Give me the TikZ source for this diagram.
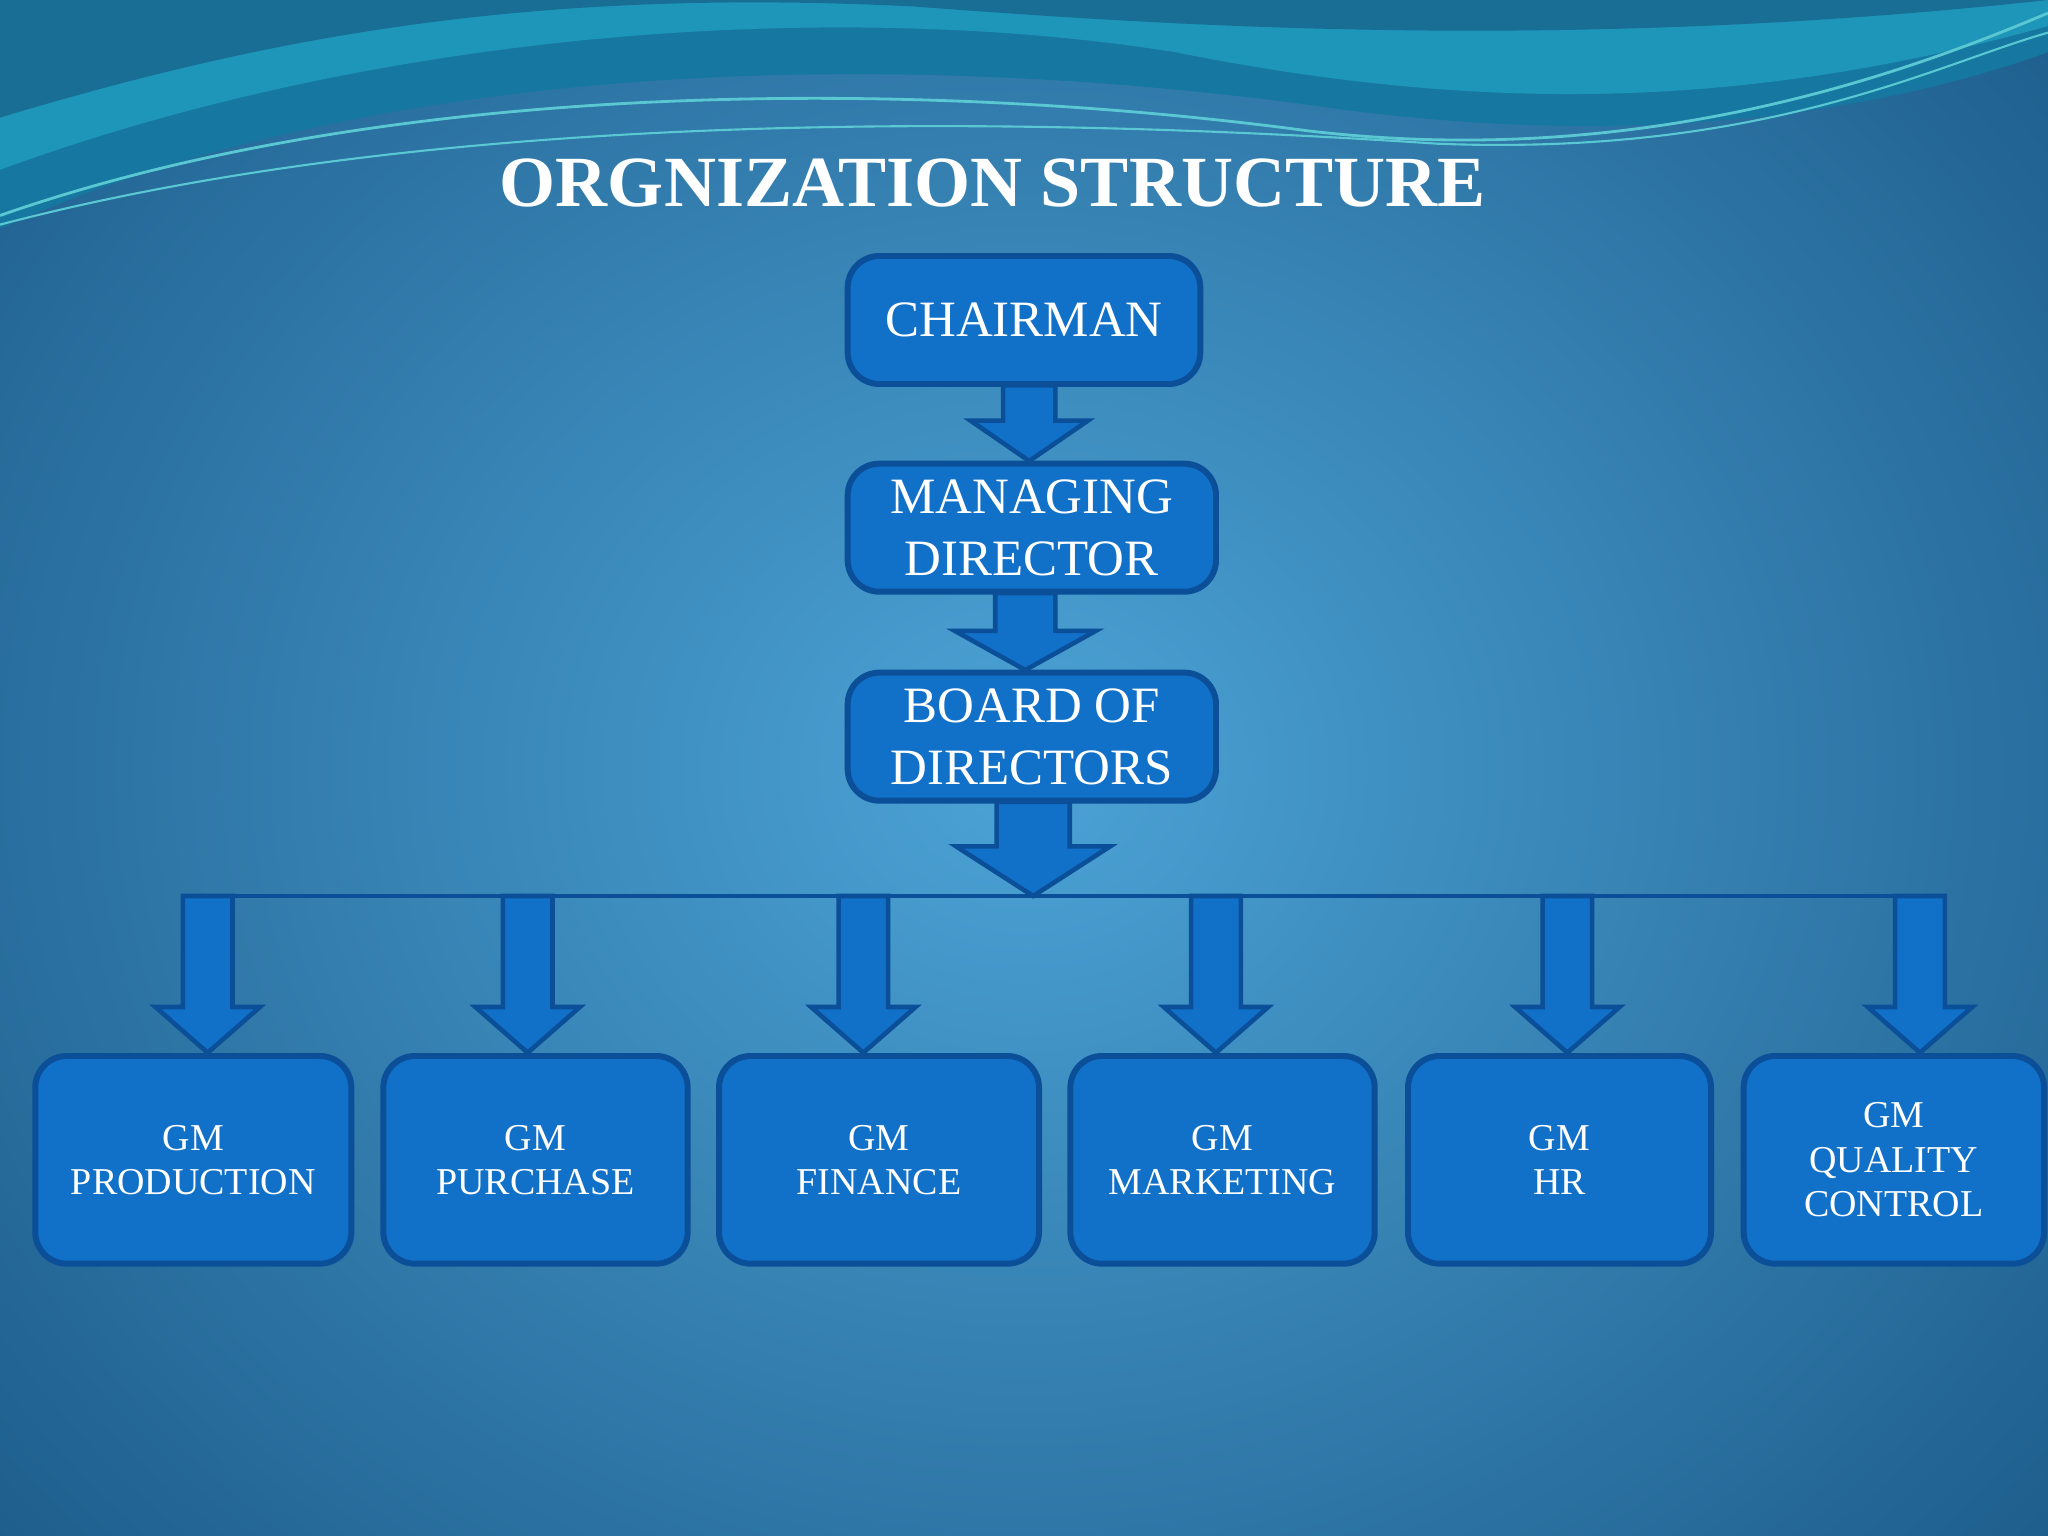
\documentclass[tikz,border=0pt]{standalone}
\usepackage{fontspec}
\setmainfont{Liberation Serif}
\usetikzlibrary{shadings}
\definecolor{boxfill}{HTML}{1170C8}
\definecolor{boxline}{HTML}{0B4F98}
\definecolor{bgin}{HTML}{4CA3D6}
\definecolor{bgout}{HTML}{175482}
\tikzset{
 orgbox/.style={draw=boxline,line width=1.7pt,fill=boxfill,rounded corners=9pt,text=white,align=center,inner sep=0pt},
 blk/.style={draw=boxline,line width=1.3pt,fill=boxfill,line join=miter}
}
\newcommand{\blkarrow}[6]{% x, ytop, yneck, ytip, shaft half, head half
 \draw[blk] (#1-#5,#2) -- (#1+#5,#2) -- (#1+#5,#3) -- (#1+#6,#3) -- (#1,#4) -- (#1-#6,#3) -- (#1-#5,#3) -- cycle;}
\begin{document}
\begin{tikzpicture}[x=0.01306cm,y=-0.01306cm]
\useasboundingbox (0,0) rectangle (1568,1176);
\shade[inner color=bgin,outer color=bgout] (-400,-450) rectangle (1968,1626);
% top wave
\fill[color={rgb,255:red,22;green,120;blue,160}] (0,0) -- (1568,0) -- (1568,40) .. controls (1400,100) and (1200,110) .. (1000,80) .. controls (700,40) and (300,40) .. (0,175) -- cycle;
\fill[color={rgb,255:red,30;green,150;blue,185}] (0,0) -- (1568,0) -- (1568,20) .. controls (1350,80) and (1150,90) .. (900,40) .. controls (650,0) and (300,20) .. (0,130) -- cycle;
\fill[color={rgb,255:red,25;green,110;blue,150}] (0,0) -- (1568,0) .. controls (1200,40) and (900,20) .. (700,5) .. controls (400,-10) and (200,30) .. (0,90) -- cycle;
\draw[color={rgb,255:red,90;green,200;blue,210},line width=0.8pt] (0,165) .. controls (300,60) and (700,60) .. (1000,100) .. controls (1250,130) and (1450,60) .. (1568,10);
\draw[color={rgb,255:red,90;green,200;blue,210},line width=0.6pt] (0,172) .. controls (350,80) and (800,90) .. (1100,110) .. controls (1350,120) and (1480,50) .. (1568,25);
\node[text=white,font=\bfseries\fontsize{20.5}{24}\selectfont] (title) at (760,140) {ORGNIZATION STRUCTURE};
\node[orgbox,minimum width=270*0.01306cm,minimum height=98*0.01306cm,font=\fontsize{14.5}{17.5}\selectfont] (ch) at (784,245) {CHAIRMAN};
\node[orgbox,minimum width=282*0.01306cm,minimum height=98*0.01306cm,font=\fontsize{14.5}{17.5}\selectfont] (md) at (790,404) {MANAGING\\DIRECTOR};
\node[orgbox,minimum width=282*0.01306cm,minimum height=98*0.01306cm,font=\fontsize{14.5}{17.5}\selectfont] (bd) at (790,564) {BOARD OF\\DIRECTORS};
\blkarrow{788}{295}{322}{353}{20}{45}
\blkarrow{785}{454}{483}{513}{23}{54}
\blkarrow{791}{614}{648}{686}{28}{59}
\draw[boxline,line width=1pt] (140,686) -- (1470,686);
\foreach \n/\cx/\w/\t/\ax in {a/148/242/GM\\PRODUCTION/159, b/410/233/GM\\PURCHASE/404, c/673/245/GM\\FINANCE/661, d/936/233/GM\\MARKETING/931, e/1194/232/GM\\HR/1200, f/1450/230/GM\\QUALITY\\CONTROL/1470}{
 \blkarrow{\ax}{686}{771}{806}{19}{40}
 \node[orgbox,minimum width=\w*0.01306cm,minimum height=159*0.01306cm,font=\fontsize{10.8}{12.6}\selectfont] (\n) at (\cx,888) {\t};
}
\end{tikzpicture}
\end{document}
